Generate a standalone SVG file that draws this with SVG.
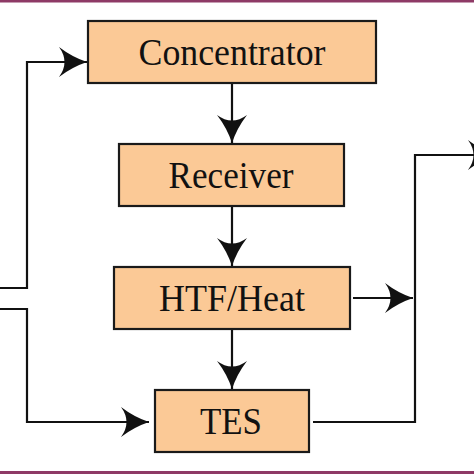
<svg xmlns="http://www.w3.org/2000/svg" width="474" height="474" viewBox="0 0 474 474">
<defs>
<style>
.box{fill:#FBC996;stroke:#1a1a1a;stroke-width:2.2}
.lbl{font-family:"Liberation Serif","Times New Roman",serif;font-size:37px;fill:#111;text-anchor:middle}
.conn{fill:none;stroke:#111;stroke-width:2.2}
</style>
<marker id="arr" markerUnits="userSpaceOnUse" markerWidth="32" markerHeight="34" viewBox="-30 -17 32 34" refX="0" refY="0" orient="auto">
<path d="M0,0 Q-15,-5 -28,-15 Q-17,0 -28,15 Q-15,5 0,0 Z" fill="#111"/>
</marker>
</defs>
<rect width="474" height="474" fill="#fff"/>
<rect x="0" y="0" width="474" height="2.5" fill="#8E3A66"/>
<rect x="0" y="471" width="474" height="3" fill="#8E3A66"/>
<g id="connectors">
<polyline class="conn" points="0,288 27,288 27,62 87,62" marker-end="url(#arr)"/>
<polyline class="conn" points="0,309 27,309 27,422 149,422" marker-end="url(#arr)"/>
<line class="conn" x1="232" y1="83" x2="232" y2="143" marker-end="url(#arr)"/>
<line class="conn" x1="232" y1="206" x2="232" y2="266" marker-end="url(#arr)"/>
<line class="conn" x1="232" y1="329" x2="232" y2="389" marker-end="url(#arr)"/>
<line class="conn" x1="353" y1="298" x2="413" y2="298" marker-end="url(#arr)"/>
<polyline class="conn" points="313,422 415,422 415,155 496,155" marker-end="url(#arr)"/>
</g>
<g id="concentrator">
<rect class="box" x="88" y="21" width="288" height="62"/>
<text class="lbl" x="232" y="65" textLength="187" lengthAdjust="spacingAndGlyphs">Concentrator</text>
</g>
<g id="receiver">
<rect class="box" x="119" y="144" width="225" height="62"/>
<text class="lbl" x="231" y="188" textLength="125" lengthAdjust="spacingAndGlyphs">Receiver</text>
</g>
<g id="htf-heat">
<rect class="box" x="114" y="267" width="236" height="62"/>
<text class="lbl" x="232" y="311" textLength="146" lengthAdjust="spacingAndGlyphs">HTF/Heat</text>
</g>
<g id="tes">
<rect class="box" x="155" y="390" width="154" height="62"/>
<text class="lbl" x="231" y="434" textLength="62" lengthAdjust="spacingAndGlyphs">TES</text>
</g>
</svg>
